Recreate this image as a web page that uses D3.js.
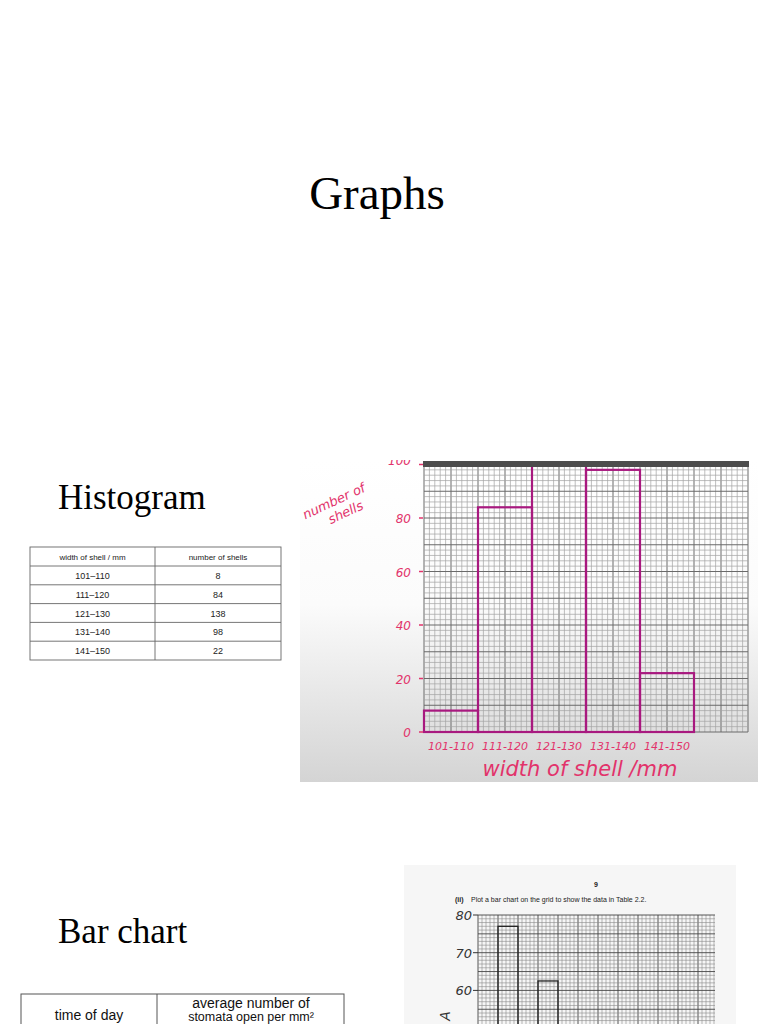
<!DOCTYPE html>
<html><head><meta charset="utf-8">
<script src="https://cdn.jsdelivr.net/npm/d3@7"></script>
<style>body{margin:0;background:#fff}svg{display:block}</style>
</head><body>
<script>
// ---------- data ----------
const histCats = ["101–110", "111–120", "121–130", "131–140", "141–150"];
const histHandLabels = ["101-110", "111-120", "121-130", "131-140", "141-150"];
const histLow = [101, 111, 121, 131, 141];
const histHigh = [110, 120, 130, 140, 150];
const histCounts = [8, 84, 138, 98, 22];
const histTicks = [0, 20, 40, 60, 80, 100];
const tableHeaders = ["width of shell / mm", "number of shells"];
const barValues = [77, 62.5];
const barTicks = [60, 70, 80];
const table2Headers = ["time of day", "average number of", "stomata open per mm²"];

const W = 768, H = 1024;
const svg = d3.select("body").append("svg").attr("width", W).attr("height", H)
  .style("font-family", "'Liberation Serif', serif");
const defs = svg.append("defs");

// ---------- slide text ----------
svg.append("text").attr("x", 377).attr("y", 209).attr("text-anchor", "middle")
  .style("font-size", "47px").text("Graphs");
svg.append("text").attr("x", 58).attr("y", 509).style("font-size", "35px").text("Histogram");
svg.append("text").attr("x", 58).attr("y", 943).style("font-size", "35px").text("Bar chart");

// ---------- table 1 ----------
const t1 = svg.append("g").style("font-family", "'Liberation Sans', Arial, sans-serif").style("font-size", "9px").attr("fill", "#222");
const t1x0 = 30, t1x1 = 155, t1x2 = 281, t1y0 = 547, t1hh = 19, t1rh = 18.8;
const t1Rows = histCats.map((c, i) => [c, String(histCounts[i])]);
const t1Bottom = t1y0 + t1hh + t1rh * t1Rows.length;
t1.append("rect").attr("x", t1x0).attr("y", t1y0).attr("width", t1x2 - t1x0).attr("height", t1Bottom - t1y0)
  .attr("fill", "none").attr("stroke", "#666").attr("stroke-width", 0.9);
t1.append("line").attr("x1", t1x1).attr("x2", t1x1).attr("y1", t1y0).attr("y2", t1Bottom).attr("stroke", "#666").attr("stroke-width", 0.9);
t1Rows.forEach((r, i) => {
  const yTop = t1y0 + t1hh + t1rh * i;
  t1.append("line").attr("x1", t1x0).attr("x2", t1x2).attr("y1", yTop).attr("y2", yTop).attr("stroke", "#666").attr("stroke-width", 0.9);
  t1.append("text").attr("x", (t1x0 + t1x1) / 2).attr("y", yTop + t1rh / 2 + 3.5).attr("text-anchor", "middle").text(r[0]);
  t1.append("text").attr("x", (t1x1 + t1x2) / 2).attr("y", yTop + t1rh / 2 + 3.5).attr("text-anchor", "middle").text(r[1]);
});
t1.append("text").attr("x", (t1x0 + t1x1) / 2).attr("y", t1y0 + 13).attr("text-anchor", "middle").style("font-size", "8px").text(tableHeaders[0]);
t1.append("text").attr("x", (t1x1 + t1x2) / 2).attr("y", t1y0 + 13).attr("text-anchor", "middle").style("font-size", "8px").text(tableHeaders[1]);

// ---------- histogram (photo of graph paper) ----------
const hx0 = 300, hx1 = 758, hy0 = 460, hy1 = 782;
const bgGrad = defs.append("linearGradient").attr("id", "hbg").attr("x1", 0).attr("x2", 0).attr("y1", 0).attr("y2", 1);
bgGrad.append("stop").attr("offset", "0%").attr("stop-color", "#ffffff");
bgGrad.append("stop").attr("offset", "45%").attr("stop-color", "#fbfbfb");
bgGrad.append("stop").attr("offset", "100%").attr("stop-color", "#d4d4d4");
defs.append("clipPath").attr("id", "hclip").append("rect").attr("x", hx0).attr("y", hy0).attr("width", hx1 - hx0).attr("height", hy1 - hy0);
const hg = svg.append("g").attr("clip-path", "url(#hclip)");
hg.append("rect").attr("x", hx0).attr("y", hy0).attr("width", hx1 - hx0).attr("height", hy1 - hy0).attr("fill", "url(#hbg)");

const hx = d3.scaleLinear().domain([100.5, 160.5]).range([424, 748]);
const hy = d3.scaleLinear().domain([0, 100]).range([732, 464.5]);
const gTop = 462;
// grid
const gridG = hg.append("g");
d3.range(100.5, 160.6, 1).forEach((v, i) => {
  const major = i % 5 === 0;
  gridG.append("line").attr("x1", hx(v)).attr("x2", hx(v)).attr("y1", gTop).attr("y2", hy(0))
    .attr("stroke", major ? "#6a6a6a" : "#a4a4a4").attr("stroke-width", major ? 1 : 0.7);
});
d3.range(0, 102, 2).forEach((v, i) => {
  const major = i % 5 === 0;
  gridG.append("line").attr("x1", hx(100.5)).attr("x2", hx(160.5)).attr("y1", hy(v)).attr("y2", hy(v))
    .attr("stroke", major ? "#6a6a6a" : "#a4a4a4").attr("stroke-width", major ? 1 : 0.7);
});
// dark band at the top of the paper
hg.append("rect").attr("x", hx(100.5) - 1).attr("y", 461).attr("width", hx(160.5) - hx(100.5) + 2).attr("height", 6).attr("fill", "#4d4d4d");

// bars
defs.append("clipPath").attr("id", "barclip").append("rect").attr("x", 400).attr("y", 467).attr("width", 360).attr("height", 300);
const pink = "#e2336b", magenta = "#a8197f";
hg.append("g").attr("clip-path", "url(#barclip)").selectAll("rect").data(histCounts).join("rect")
  .attr("x", (d, i) => hx(histLow[i] - 0.5)).attr("width", (d, i) => hx(histHigh[i] + 0.5) - hx(histLow[i] - 0.5))
  .attr("y", d => hy(d)).attr("height", d => hy(0) - hy(d))
  .attr("fill", "none").attr("stroke", magenta).attr("stroke-width", 2.2);

// handwritten axis
const hand = hg.append("g").attr("fill", pink).style("font-family", "'DejaVu Sans', sans-serif").style("font-style", "italic");
hand.selectAll("line.tick").data(histTicks).join("line").attr("class", "tick")
  .attr("x1", 419).attr("x2", 423).attr("y1", d => hy(d)).attr("y2", d => hy(d)).attr("stroke", pink).attr("stroke-width", 1.5);
hand.selectAll("text.yl").data(histTicks).join("text").attr("class", "yl")
  .attr("x", 411).attr("y", d => d === 100 ? hy(d) + 0.5 : hy(d) + 5).attr("text-anchor", "end").style("font-size", "12px").text(d => d);
hand.selectAll("text.xl").data(histHandLabels).join("text").attr("class", "xl")
  .attr("x", (d, i) => (hx(histLow[i] - 0.5) + hx(histHigh[i] + 0.5)) / 2).attr("y", 750)
  .attr("text-anchor", "middle").style("font-size", "11px").text(d => d);
hand.append("text").attr("x", 580).attr("y", 776).attr("text-anchor", "middle").style("font-size", "21px").text("width of shell /mm");
const yt = hand.append("g").attr("transform", "translate(337,508) rotate(-25)");
yt.append("text").attr("x", 0).attr("y", -3).attr("text-anchor", "middle").style("font-size", "13px").text("number of");
yt.append("text").attr("x", 6).attr("y", 12).attr("text-anchor", "middle").style("font-size", "13px").text("shells");

// ---------- bar chart (scanned worksheet) ----------
const bx0 = 404, bx1 = 736, by0 = 865;
svg.append("rect").attr("x", bx0).attr("y", by0).attr("width", bx1 - bx0).attr("height", H - by0).attr("fill", "#f6f6f6");
const ws = svg.append("g").style("font-family", "'Liberation Sans', Arial, sans-serif").attr("fill", "#222");
ws.append("text").attr("x", 596).attr("y", 887).attr("text-anchor", "middle").style("font-size", "7px").style("font-weight", "bold").text("9");
ws.append("text").attr("x", 455).attr("y", 902).style("font-size", "7px").style("font-weight", "bold").text("(ii)");
ws.append("text").attr("x", 471).attr("y", 902).style("font-size", "7px").text("Plot a bar chart on the grid to show the data in Table 2.2.");

const by = d3.scaleLinear().domain([0, 80]).range([915 + 8 * 37.7, 915]);
const bx = d3.scaleLinear().domain([0, 5.925]).range([478, 715]);
const bgrid = svg.append("g");
d3.range(0, 5.93, 0.1).forEach((v, i) => {
  const major = i % 5 === 0;
  bgrid.append("line").attr("x1", bx(v)).attr("x2", bx(v)).attr("y1", by(80)).attr("y2", H)
    .attr("stroke", major ? "#444" : "#8a8a8a").attr("stroke-width", major ? 0.9 : 0.6);
});
d3.range(80, 49, -1).forEach((v, i) => {
  const major = i % 5 === 0;
  bgrid.append("line").attr("x1", bx(0)).attr("x2", bx(5.925)).attr("y1", by(v)).attr("y2", by(v))
    .attr("stroke", major ? "#444" : "#8a8a8a").attr("stroke-width", major ? 0.9 : 0.6);
});
svg.append("g").selectAll("rect").data(barValues).join("rect")
  .attr("x", (d, i) => bx(i + 0.5)).attr("width", (d, i) => bx(i + 1) - bx(i + 0.5))
  .attr("y", d => by(d)).attr("height", d => by(0) - by(d))
  .attr("fill", "none").attr("stroke", "#222").attr("stroke-width", 1.3);
const bh = svg.append("g").attr("fill", "#333").style("font-family", "'DejaVu Sans', sans-serif").style("font-style", "italic");
bh.selectAll("line").data(barTicks).join("line").attr("x1", 473).attr("x2", 478).attr("y1", d => by(d)).attr("y2", d => by(d)).attr("stroke", "#333");
bh.selectAll("text.t").data(barTicks).join("text").attr("class", "t").attr("x", 472).attr("y", d => by(d) + 5)
  .attr("text-anchor", "end").style("font-size", "13px").text(d => d);
bh.append("text").attr("transform", "translate(450,1016) rotate(-90)").attr("text-anchor", "middle").style("font-size", "14px").text("A");

// ---------- table 2 ----------
const t2 = svg.append("g").style("font-family", "'Liberation Sans', Arial, sans-serif").attr("fill", "#111").style("font-size", "14px");
t2.append("rect").attr("x", 21).attr("y", 994).attr("width", 323).attr("height", 60).attr("fill", "none").attr("stroke", "#555").attr("stroke-width", 1);
t2.append("line").attr("x1", 157).attr("x2", 157).attr("y1", 994).attr("y2", H).attr("stroke", "#555").attr("stroke-width", 1);
t2.append("text").attr("x", 89).attr("y", 1020).attr("text-anchor", "middle").text(table2Headers[0]);
t2.append("text").attr("x", 251).attr("y", 1008).attr("text-anchor", "middle").text(table2Headers[1]);
t2.append("text").attr("x", 251).attr("y", 1021).attr("text-anchor", "middle").style("font-size", "12.5px").text(table2Headers[2]);
</script>
</body></html>
